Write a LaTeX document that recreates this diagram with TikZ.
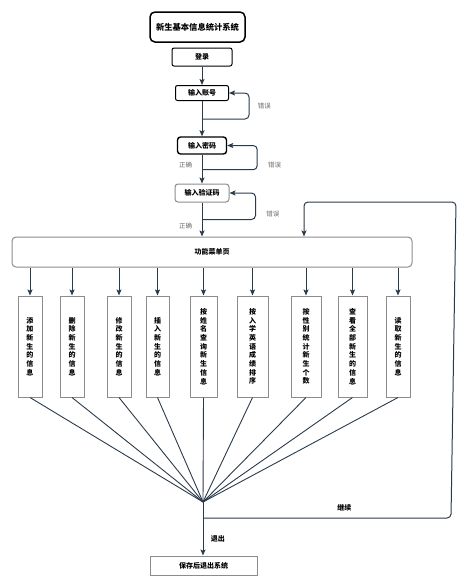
\documentclass[tikz,border=0pt]{standalone}
\usepackage{fontspec}
\setmainfont{Noto Sans CJK SC}
\usetikzlibrary{arrows,arrows.meta,calc}
\definecolor{linecol}{HTML}{2B3A4A}
\definecolor{boxgrey}{HTML}{8C8C8C}
\definecolor{labgrey}{HTML}{6A6A6A}
\tikzset{
    block/.style = {draw, rectangle, rounded corners=2pt, line width=1pt,
        minimum height=15pt, align=center, inner sep=1pt,
        font=\fontsize{7}{8}\selectfont\bfseries},
    greyblock/.style = {block, draw=boxgrey},
    vblock/.style = {draw=boxgrey, rectangle, line width=1pt, minimum height=101pt,
        align=center, inner sep=1pt, font=\fontsize{7}{8.7}\selectfont\bfseries},
    arrow/.style = {draw=linecol, ->, line width=1pt},
    line/.style = {draw=linecol, -, line width=0.9pt},
    errlabel/.style = {text=labgrey, font=\fontsize{6.5}{7}\selectfont},
    boldlabel/.style = {text=black, font=\fontsize{7}{8}\selectfont\bfseries}
}

\begin{document}
\begin{tikzpicture}[x=1pt, y=-1pt, >={Stealth[length=6pt,width=5pt,inset=1.2pt]}, node distance=30pt]
        \useasboundingbox (0,0) rectangle (474,587);
        \node [block, line width=1.5pt, rounded corners=5pt, minimum width=95pt, minimum height=30pt,
            font=\fontsize{8.3}{9}\selectfont\bfseries] (title) at (197.5,27) {新生基本信息统计系统};
        \node [block, minimum width=60pt, minimum height=18pt] (login) at (202,57) {登录};
        \node [block, below of=login, node distance=36pt, minimum width=53pt] (account) {输入账号};
        \node [block, below of=account, node distance=52.5pt, line width=1.4pt, rounded corners=3pt,
            minimum width=49pt, minimum height=17pt] (password) {输入密码};
        \node [greyblock, below of=password, node distance=47.5pt, rounded corners=3pt,
            minimum width=54pt, minimum height=18pt] (captcha) {输入验证码};
        \node [greyblock, rounded corners=4pt, minimum width=400pt, minimum height=30pt] (menu) at (212,252) {功能菜单页};
        \draw [arrow] (login) -- (account);
        \draw [arrow] (account) -- (password);
        \draw [arrow] (password) -- node [errlabel, left=6pt, pos=0.35] {正确} (captcha);
        \draw [arrow] (captcha) -- node [errlabel, left=6pt, pos=0.7] {正确} (captcha |- menu.north);
        % wrong input goes back
        \coordinate (accloop) at ($(account.south)+(0,18)$);
        \draw [arrow, rounded corners=4pt] (accloop) -| ($(account.east)+(20,0)$)
            node [errlabel, pos=0.75, right=5pt] {错误} -- (account.east);
        \coordinate (pwloop) at ($(password.south)+(0,15)$);
        \draw [arrow, rounded corners=4pt] (pwloop) -| ($(password.east)+(30,0)$)
            node [errlabel, pos=0.6, right=7pt] {错误} -- (password.east);
        \coordinate (caploop) at ($(captcha.south)+(0,17)$);
        \draw [arrow, rounded corners=4pt] (caploop) -| ($(captcha.east)+(26,0)$)
            node [errlabel, pos=0.6, right=7pt] {错误} -- (captcha.east);
        % functions
        \coordinate (join) at (203,502);
        \foreach \i/\x/\w/\t in {1/30/24/{添\\加\\新\\生\\的\\信\\息},
                2/72/24/{删\\除\\新\\生\\的\\信\\息},
                3/119/24/{修\\改\\新\\生\\的\\信\\息},
                4/157.5/23/{插\\入\\新\\生\\的\\信\\息},
                5/203.5/27/{按\\姓\\名\\查\\询\\新\\生\\信\\息},
                6/252.5/31/{按\\入\\学\\英\\语\\成\\绩\\排\\序},
                7/306/30/{按\\性\\别\\统\\计\\新\\生\\个\\数},
                8/352.5/29/{查\\看\\全\\部\\新\\生\\的\\信\\息},
                9/398/24/{读\\取\\新\\生\\的\\信\\息}}{
            \node [vblock, minimum width=\w pt] (fn\i) at (\x,346.5) {\t};
            \draw [arrow] (fn\i.north |- menu.south) -- (fn\i.north);
            \draw [line] (fn\i.south) -- (join);
        }
        \node [greyblock, rounded corners=0pt, minimum width=107pt, minimum height=19pt] (exit) at (203.5,565.5) {保存后退出系统};
        \draw [arrow] (join) -- node [boldlabel, right=4pt, pos=0.68] {退出} (exit.north -| join);
        \coordinate (cont) at (203,518);
        \draw [arrow, rounded corners=4pt] (cont) -- node [boldlabel, above=3pt, pos=0.57] {继续} (451,518)
            -- (456,202) -- (304,202) -- (304,0 |- menu.north);
\end{tikzpicture}
\end{document}
